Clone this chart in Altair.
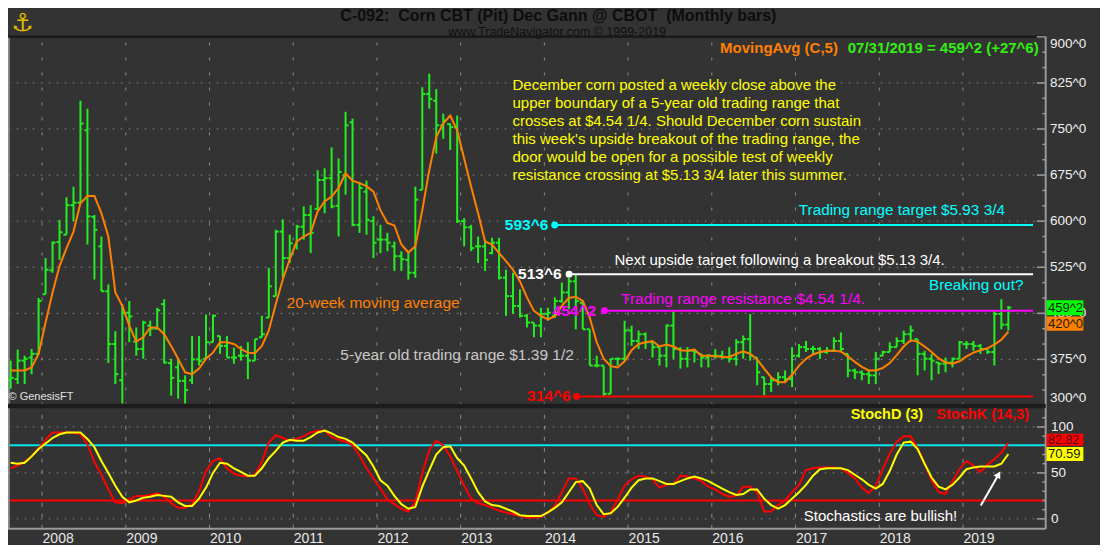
import altair as alt
import pandas as pd

# ------------------------------------------------------------------ data
# Monthly bars of the Dec corn "Gann" continuation, Aug 2007 .. Jul 2019 (cents/bu)
START_YEAR, START_MONTH = 2007, 8

OPEN = [
    342, 343, 373, 378, 384,
    481, 520, 566, 578, 626, 630, 748, 607, 559, 486, 400, 341,
    451, 404, 392, 430, 425, 465, 369, 362, 340, 341, 375, 376,
    403, 413, 397, 378, 381, 381, 373, 411, 443, 478, 583, 540,
    560, 591, 610, 620, 667, 670, 625, 675, 761, 594, 648, 600,
    570, 570, 559, 543, 537, 516, 651, 807, 796, 756, 758, 753,
    600, 590, 559, 559, 548, 565, 508, 478, 462, 446, 435, 430,
    449, 446, 470, 484, 502, 467, 424, 365, 365, 319, 376, 376,
    422, 405, 416, 403, 395, 381, 430, 392, 376, 389, 384, 378,
    381, 381, 378, 376, 403, 408, 378, 346, 335, 341, 346, 343,
    381, 395, 392, 392, 387, 389, 405, 384, 357, 354, 351, 349,
    381, 387, 395, 405, 416, 408, 384, 376, 370, 368, 370, 376,
    400, 400, 397, 392, 387, 449, 431.5,
]
HIGH = [
    373, 391, 381, 392, 475,
    540, 567, 602, 639, 656, 796, 783, 610, 575, 497, 421, 465,
    470, 427, 438, 438, 459, 473, 376, 376, 349, 413, 413, 448,
    448, 413, 413, 394, 397, 403, 408, 446, 524, 586, 603, 578,
    594, 624, 626, 683, 686, 720, 702, 778, 767, 664, 666, 608,
    594, 581, 567, 551, 548, 656, 818, 840, 815, 775, 759, 772,
    605, 594, 575, 570, 573, 573, 521, 516, 489, 449, 435, 459,
    459, 476, 500, 508, 514, 467, 424, 381, 365, 376, 378, 438,
    430, 422, 419, 405, 395, 432, 454, 395, 395, 392, 384, 384,
    392, 389, 395, 408, 414, 449, 378, 346, 346, 354, 357, 395,
    400, 405, 397, 395, 395, 411, 419, 384, 360, 357, 357, 387,
    389, 403, 411, 422, 430, 408, 389, 384, 370, 378, 378, 405,
    405, 405, 400, 392, 454, 473, 462,
]
LOW = [
    327, 335, 335, 351, 384,
    481, 516, 537, 578, 600, 629, 562, 505, 486, 369, 335, 303,
    403, 381, 376, 413, 424, 368, 316, 311, 303, 335, 365, 376,
    403, 384, 378, 368, 373, 343, 373, 411, 443, 478, 508, 532,
    554, 570, 548, 618, 613, 621, 575, 643, 592, 581, 578, 540,
    548, 551, 519, 519, 505, 508, 651, 783, 710, 734, 716, 597,
    559, 551, 532, 519, 546, 505, 446, 449, 443, 427, 411, 411,
    438, 443, 467, 457, 424, 424, 365, 362, 315, 319, 365, 373,
    397, 392, 392, 378, 365, 362, 376, 360, 362, 370, 362, 362,
    376, 376, 370, 365, 376, 373, 333, 317, 322, 333, 338, 330,
    378, 387, 384, 376, 384, 387, 387, 346, 343, 341, 335, 335,
    381, 387, 395, 400, 403, 349, 357, 341, 351, 354, 362, 376,
    392, 389, 384, 384, 365, 424, 422,
]
CLOSE = [
    345, 373, 376, 384, 470,
    521, 565, 582, 626, 630, 759, 608, 586, 486, 400, 351, 451,
    445, 392, 435, 425, 455, 370, 345, 340, 325, 375, 372, 403,
    446, 397, 378, 378, 381, 373, 408, 416, 494, 583, 540, 564,
    591, 610, 581, 667, 670, 624, 680, 756, 594, 654, 602, 565,
    570, 565, 543, 538, 516, 635, 807, 799, 756, 764, 753, 600,
    590, 556, 559, 537, 565, 508, 478, 462, 446, 435, 430, 449,
    451, 470, 484, 502, 470, 424, 365, 365, 319, 376, 376, 422,
    405, 416, 403, 395, 381, 430, 392, 376, 389, 387, 378, 381,
    381, 378, 376, 403, 408, 381, 354, 335, 341, 346, 343, 381,
    395, 392, 392, 387, 389, 405, 392, 357, 354, 351, 349, 376,
    387, 395, 405, 416, 422, 384, 376, 373, 368, 370, 376, 403,
    400, 397, 392, 387, 449, 431.5, 459.25,
]
MA5 = [
    357, 357, 357, 362, 384,
    435, 484, 527, 556, 583, 629, 641, 641, 613, 575, 484, 462,
    430, 404, 411, 427, 427, 416, 397, 376, 354, 351, 360, 376,
    386, 403, 403, 400, 392, 386, 385, 397, 422, 465, 505, 538,
    567, 575, 581, 616, 632, 640, 654, 678, 666, 662, 657, 648,
    618, 597, 593, 562, 549, 559, 618, 683, 737, 759, 772, 748,
    702, 656, 613, 567, 562, 548, 535, 521, 502, 476, 454, 446,
    440, 445, 462, 475, 477, 470, 443, 403, 376, 364, 362, 372,
    390, 400, 403, 405, 396, 399, 396, 390, 389, 391, 381, 381,
    380, 379, 379, 384, 388, 384, 375, 360, 346, 338, 338, 350,
    365, 376, 383, 387, 389, 389, 388, 380, 371, 363, 357, 357,
    361, 369, 382, 396, 406, 404, 396, 387, 377, 370, 368, 372,
    380, 386, 390, 393, 399, 407, 420,
]
STOCH_K = [
    55, 58, 62, 68, 77,
    86, 94, 94, 94, 94, 92, 81, 62, 48, 32, 18, 17,
    21, 25, 25, 26, 28, 24, 17, 12, 12, 16, 30, 52,
    63, 66, 55, 49, 47, 46, 48, 62, 83, 91, 88, 85,
    87, 90, 94, 96, 96, 89, 86, 84, 80, 69, 55, 44,
    33, 21, 16, 11, 8, 18, 50, 75, 85, 80, 68, 52,
    36, 22, 17, 15, 12, 9, 7, 5, 3, 1.5, 1.5, 2,
    7, 14, 29, 44, 44, 33, 16, 4, 2, 7, 21, 36,
    43, 47, 46, 43, 34, 37, 38, 47, 46, 44, 41, 35,
    32, 27, 24, 25, 35, 35, 29, 8, 8, 15, 20, 29,
    37, 53, 55, 56, 56, 56, 55, 50, 44, 34, 28, 36,
    54, 71, 84, 90, 90, 77, 60, 42, 29, 27, 41, 54,
    63, 58, 51, 59, 65, 72, 82.82,
]
STOCH_D = [
    61, 60, 61, 68, 76,
    82, 88, 92, 94, 94, 94, 87, 78, 63, 50, 36, 24,
    18, 20, 23, 24, 26, 25, 24, 18, 14, 14, 22, 34,
    50, 61, 60, 55, 51, 47, 47, 55, 66, 74, 83, 86,
    85, 85, 89, 94, 96, 93, 89, 87, 83, 76, 69, 57,
    42, 36, 25, 16, 11, 13, 35, 53, 70, 78, 79, 66,
    58, 44, 29, 19, 15, 14, 11, 8, 4, 3, 3, 3,
    7, 12, 18, 29, 40, 41, 33, 15, 5, 6, 13, 23,
    34, 42, 44, 44, 41, 38, 38, 41, 44, 46, 44, 41,
    37, 33, 29, 26, 27, 32, 32, 22, 15, 11, 15, 22,
    29, 37, 47, 54, 55, 55, 55, 53, 48, 43, 37, 33,
    38, 52, 70, 83, 84, 76, 60, 45, 35, 32, 37, 45,
    54, 56, 57, 57, 57, 60, 70.59,
]

YEARS = list(range(2008, 2020))
PRICE_MAJOR = [300, 375, 450, 525, 600, 675, 750, 825, 900]
PRICE_LABELS = ["300^0", "375^0", "450^0", "525^0", "600^0", "675^0", "750^0", "825^0", "900^0"]
PRICE_MINOR = [v for v in range(325, 900, 25) if v % 75]
STOCH_MAJOR = [0, 50, 100]
STOCH_MINOR = [10, 20, 30, 40, 60, 70, 80, 90, 110]
LEVEL_VALUES = [593.75, 513.75, 454.25, 314.75]
LEVEL_LABELS = ["593^6", "513^6", "454^2", "314^6"]
STOCH_BANDS = [80, 20]
LAST_CLOSE, LAST_MA = 459.25, 420.0
LAST_K, LAST_D = 82.82, 70.59

N = len(CLOSE)
for arr in (OPEN, HIGH, LOW, MA5, STOCH_K, STOCH_D):
    assert len(arr) == N, len(arr)

T = [START_YEAR + (START_MONTH - 1 + i + 0.5) / 12 for i in range(N)]
bars = pd.DataFrame({"t": T, "o": OPEN, "h": HIGH, "l": LOW, "c": CLOSE,
                     "ma": MA5, "k": STOCH_K, "d": STOCH_D})

# ------------------------------------------------------------------ layout
FONT = "Liberation Sans"
W, H = 1092, 537
FS = 1.0
BG = "#333333"
GRID = "#8c8c8c"
AXIS = "#9a9a9a"
GREEN = "#22ee22"
ORANGE = "#ff8000"
NB = "\u00a0"

# domains covering the whole canvas: time (years), price (cents), stochastic (%)
T0, T1 = 2007.5929, 2020.6367
P0, P1 = 72.9, 946.97
S0, S1 = -28.46, 555.95

T_LEFT, T_AXIS = 2007.6024, 2019.988
T_GRID0 = 2007.603
T_TMAJ, T_TMIN = 2019.881, 2019.948
T_LBL, T_SLBL = 2020.039, 2020.051
T_BOX0, T_BOX1, T_BOXT = 2019.998, 2020.438, 2020.016
PRICE_TOP, PRICE_BOT = 900, 300
STOCH_TOP, STOCH_BOT = 120.9, -10.8
LINE_END = 2019.837


def xq(f):
    return alt.X(f, type="quantitative", axis=None,
                 scale=alt.Scale(domain=[T0, T1], nice=False, zero=False))


def yq(f, panel):
    dom = [P0, P1] if panel == "p" else [S0, S1]
    return alt.Y(f, type="quantitative", axis=None,
                 scale=alt.Scale(domain=dom, nice=False, zero=False))


def hrules(rows, panel, color, width, dash=None):
    df = pd.DataFrame(rows, columns=["a", "b", "v"])
    kw = {"color": color, "strokeWidth": width}
    if dash:
        kw["strokeDash"] = dash
    return alt.Chart(df).mark_rule(**kw).encode(x=xq("a"), x2=alt.X2("b"), y=yq("v", panel))


def vrules(rows, panel, color, width, dash=None):
    df = pd.DataFrame(rows, columns=["t", "v0", "v1"])
    kw = {"color": color, "strokeWidth": width}
    if dash:
        kw["strokeDash"] = dash
    return alt.Chart(df).mark_rule(**kw).encode(x=xq("t"), y=yq("v0", panel), y2=alt.Y2("v1"))


def rects(rows, panel, color):
    df = pd.DataFrame(rows, columns=["a", "b", "v0", "v1"])
    return alt.Chart(df).mark_rect(color=color).encode(
        x=xq("a"), x2=alt.X2("b"), y=yq("v0", panel), y2=alt.Y2("v1"))


def txt(rows, panel, color, size, weight="normal", align="left", baseline="middle", font=FONT):
    df = pd.DataFrame(rows, columns=["t", "v", "text"])
    return alt.Chart(df).mark_text(
        align=align, baseline=baseline, color=color, fontSize=round(size * FS, 2),
        fontWeight=weight, font=font).encode(x=xq("t"), y=yq("v", panel), text=alt.Text("text:N"))


layers = []

# grids
layers.append(vrules([(y, PRICE_BOT, PRICE_TOP) for y in YEARS], "p", GRID, 1, [3, 12]))
layers.append(vrules([(y, STOCH_BOT, STOCH_TOP) for y in YEARS], "s", GRID, 1, [4, 7]))
layers.append(hrules([(T_GRID0, T_AXIS, v) for v in PRICE_MAJOR[1:-1]], "p", GRID, 1, [1.5, 6.5]))
layers.append(hrules([(T_GRID0, T_AXIS, v) for v in STOCH_MAJOR], "s", GRID, 1, [1.5, 6.5]))

# stochastic 80 / 20 bands
layers.append(hrules([(T_LEFT, T_AXIS, STOCH_BANDS[0])], "s", "#00e5ee", 2))
layers.append(hrules([(T_LEFT, T_AXIS, STOCH_BANDS[1])], "s", "#ff0000", 2))

# frame, axis line and ticks
layers.append(hrules([(T0, T_AXIS, PRICE_TOP)], "p", "#1a1a1a", 2.5))
layers.append(vrules([(T_LEFT, 898.4, 98.8)], "p", GRID, 2))
layers.append(hrules([(T0, T_AXIS, STOCH_BOT)], "s", AXIS, 2))
layers.append(vrules([(T_AXIS, 900.5, 98.8)], "p", AXIS, 2))
layers.append(hrules([(T_TMAJ, T_AXIS, v) for v in PRICE_MAJOR], "p", AXIS, 1.5))
layers.append(hrules([(T_TMIN, T_AXIS, v) for v in PRICE_MINOR], "p", AXIS, 1.5))
layers.append(hrules([(T_TMAJ, T_AXIS, v) for v in STOCH_MAJOR], "s", AXIS, 1.5))
layers.append(hrules([(T_TMIN, T_AXIS, v) for v in STOCH_MINOR], "s", AXIS, 1.5))

# OHLC bars
base = alt.Chart(bars)
layers.append(base.mark_rule(color=GREEN, strokeWidth=2).encode(
    x=xq("t"), y=yq("l", "p"), y2=alt.Y2("h")))
layers.append(base.transform_calculate(ta="datum.t - 0.036").mark_rule(
    color=GREEN, strokeWidth=2).encode(x=xq("ta"), x2=alt.X2("t"), y=yq("o", "p")))
layers.append(base.transform_calculate(tb="datum.t + 0.036").mark_rule(
    color=GREEN, strokeWidth=2).encode(x=xq("t"), x2=alt.X2("tb"), y=yq("c", "p")))

# horizontal levels with start dots
LEVEL_COLORS = ["#00ffff", "#ffffff", "#ff00ff", "#ff0000"]
LEVEL_START = [2014.123, 2014.295, 2014.718, 2014.384]
LEVEL_LABEL_T = [2014.048, 2014.206, 2014.618, 2014.313]
for v, c, ts in zip(LEVEL_VALUES, LEVEL_COLORS, LEVEL_START):
    layers.append(hrules([(ts, LINE_END, v)], "p", c, 2))
    layers.append(alt.Chart(pd.DataFrame({"t": [ts], "v": [v]})).mark_circle(
        color=c, size=48, opacity=1).encode(x=xq("t"), y=yq("v", "p")))

# moving average and stochastics
layers.append(base.mark_line(color=ORANGE, strokeWidth=2).encode(x=xq("t"), y=yq("ma", "p")))
layers.append(base.mark_line(color="#ff0000", strokeWidth=2).encode(x=xq("t"), y=yq("k", "s")))
layers.append(base.mark_line(color="#ffff00", strokeWidth=2).encode(x=xq("t"), y=yq("d", "s")))

# separator band between the panels
layers.append(rects([(T0, T_AXIS, 295.5, 302.75)], "p", "#1c1c1c"))

# ---- texts
layers.append(txt([(2014.167, 933.5,
                    f"C-092:{NB} Corn CBT (Pit) Dec Gann @ CBOT{NB} (Monthly bars)")],
                  "p", "#0d0d0d", 16, "bold", "center"))
layers.append(txt([(2014.152, 907.6, "www.TradeNavigator.com \u00a9 1999-2019")],
                  "p", "#111111", 12.5, "normal", "center"))
layers.append(txt([(2007.765, 923.0, "\u2693")], "p", "#e0bb00", 25, "normal", "center",
                  font="DejaVu Sans"))
layers.append(txt([(2016.099, 881.4, "MovingAvg (C,5)")], "p", ORANGE, 15, "bold"))
layers.append(txt([(2017.623, 881.4, "07/31/2019 = 459^2 (+27^6)")], "p", "#33ee11", 15, "bold"))

PARA = [
    "December corn posted a weekly close above the",
    "upper boundary of a 5-year old trading range that",
    "crosses at $4.54 1/4. Should December corn sustain",
    "this week's upside breakout of the trading range, the",
    "door would be open for a possible test of weekly",
    "resistance crossing at $5.13 3/4 later this summer.",
]
PARA_STEP = 29.46
layers.append(txt([(2013.619, 822.3 - i * PARA_STEP, s) for i, s in enumerate(PARA)],
                  "p", "#ffff00", 15))

layers.append(txt([(2010.92, 467.4, "20-week moving average")], "p", ORANGE, 15.5))
layers.append(txt([(2011.563, 382.1, "5-year old trading range $1.39 1/2")], "p", "#c8c8c8", 15.5))
layers.append(txt([(2007.599, 313.3, "\u00a9 GenesisFT")], "p", "#e0e0e0", 11))

for v, lab, c, tl in zip(LEVEL_VALUES, LEVEL_LABELS, LEVEL_COLORS, LEVEL_LABEL_T):
    layers.append(txt([(tl, v, lab)], "p", c, 15.5, "bold", "right"))

layers.append(txt([(2017.039, 618.4, "Trading range target $5.93 3/4")], "p", "#00ffff", 15.3))
layers.append(txt([(2014.837, 537.5, "Next upside target following a breakout $5.13 3/4.")],
                  "p", "#ffffff", 15))
layers.append(txt([(2014.915, 473.8, "Trading range resistance $4.54 1/4.")], "p", "#ff00ff", 15.5))
layers.append(txt([(2018.594, 495.4, "Breaking out?")], "p", "#00ffff", 15.3))

# price axis labels (ends flushed inside the panel)
layers.append(txt([(T_LBL, v, s) for v, s in zip(PRICE_MAJOR[1:-1], PRICE_LABELS[1:-1])],
                  "p", "#f0f0f0", 13.5))
layers.append(txt([(T_LBL, PRICE_MAJOR[-1], PRICE_LABELS[-1])], "p", "#f0f0f0", 13.5,
                  baseline="top"))
layers.append(txt([(T_LBL, PRICE_MAJOR[0], PRICE_LABELS[0])], "p", "#f0f0f0", 13.5,
                  baseline="bottom"))

# last-value boxes
layers.append(rects([(T_BOX0, T_BOX1, LAST_CLOSE - 12.2, LAST_CLOSE + 12.2)], "p", "#00ff00"))
layers.append(txt([(T_BOXT, LAST_CLOSE, "459^2")], "p", "#1a1a1a", 13))
layers.append(rects([(T_BOX0, T_BOX1, LAST_MA + 1.5, LAST_MA + 24.8)], "p", "#ff8000"))
layers.append(txt([(T_BOXT, LAST_MA + 13.2, "420^0")], "p", "#1a1a1a", 13))

# stochastic panel texts
layers.append(txt([(2017.658, 113.3, "StochD (3)")], "s", "#ffff00", 14.5, "bold"))
layers.append(txt([(2018.682, 113.3, "StochK (14,3)")], "s", "#ff0000", 14.5, "bold"))
layers.append(txt([(2017.098, 2.6, "Stochastics are bullish!")], "s", "#ffffff", 15))
layers.append(txt([(T_SLBL, v, str(v)) for v in STOCH_MAJOR], "s", "#f0f0f0", 13.5))
layers.append(rects([(T_BOX0, T_BOX1, LAST_K - 3.2, LAST_K + 9.9)], "s", "#ff0000"))
layers.append(txt([(T_BOXT, LAST_K + 2.6, f"{LAST_K:.2f}")], "s", "#500000", 12.5))
layers.append(rects([(T_BOX0, T_BOX1, LAST_D - 7.5, LAST_D + 7.5)], "s", "#ffff00"))
layers.append(txt([(T_BOXT, LAST_D, f"{LAST_D:.2f}")], "s", "#1a1a1a", 13))

# arrow towards the stochastic turn
arrow = pd.DataFrame({"t": [2019.213], "s": [14.5], "t2": [2019.425], "s2": [48.3]})
layers.append(alt.Chart(arrow).mark_rule(color="#ffffff", strokeWidth=2).encode(
    x=xq("t"), y=yq("s", "s"), x2=alt.X2("t2"), y2=alt.Y2("s2")))
layers.append(alt.Chart(arrow).mark_point(shape="triangle-up", filled=True, size=60, angle=30,
                                          color="#ffffff", opacity=1).encode(
    x=xq("t2"), y=yq("s2", "s")))

# year labels
layers.append(txt([(y + 0.006, -21.6, str(y)) for y in YEARS], "s", "#e8e8e8", 14))

chart = alt.layer(*layers).resolve_scale(y="independent").properties(
    width=W, height=H, background=BG, padding=0,
    autosize=alt.AutoSizeParams(type="none"),
).configure_view(stroke=None)

chart.save("out.html", embed_options={"renderer": "svg", "actions": False})
